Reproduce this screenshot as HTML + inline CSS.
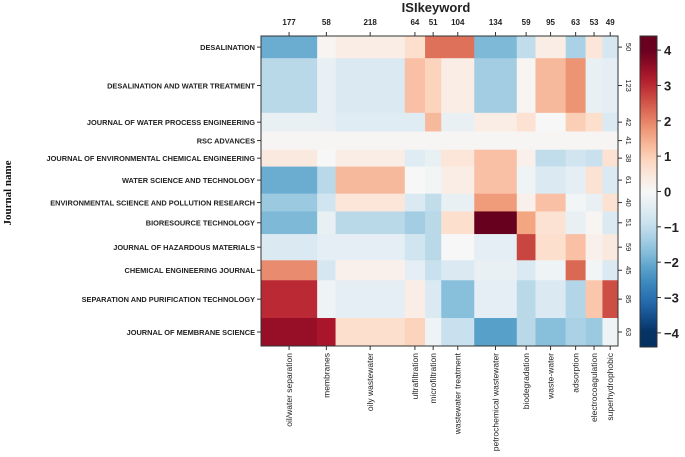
<!DOCTYPE html>
<html><head><meta charset="utf-8">
<style>
html,body{margin:0;padding:0;background:#fff;}
svg{display:block;font-family:"Liberation Sans",sans-serif;}
</style></head>
<body>
<svg id="chart" width="685" height="457" viewBox="0 0 685 457" xmlns="http://www.w3.org/2000/svg"></svg>
<script>
const keywords = ["oil/water separation","membranes","oily wastewater","ultrafiltration","microfiltration","wastewater treatment","petrochemical wastewater","biodegradation","waste-water","adsorption","electrocoagulation","superhydrophobic"];
const keywordCounts = [177,58,218,64,51,104,134,59,95,63,53,49];
const journals = ["DESALINATION","DESALINATION AND WATER TREATMENT","JOURNAL OF WATER PROCESS ENGINEERING","RSC ADVANCES","JOURNAL OF ENVIRONMENTAL CHEMICAL ENGINEERING","WATER SCIENCE AND TECHNOLOGY","ENVIRONMENTAL SCIENCE AND POLLUTION RESEARCH","BIORESOURCE TECHNOLOGY","JOURNAL OF HAZARDOUS MATERIALS","CHEMICAL ENGINEERING JOURNAL","SEPARATION AND PURIFICATION TECHNOLOGY","JOURNAL OF MEMBRANE SCIENCE"];
const journalCounts = [50,123,42,41,38,61,40,51,59,45,85,63];
const residuals = [
 [-2.0,0.1,0.3,0.7,2.2,2.2,-1.8,-1.0,0.3,-1.3,0.5,-0.7],
 [-1.1,-0.3,-0.6,1.2,0.9,0.3,-1.4,0.1,1.3,1.8,-0.3,-0.4],
 [-0.3,-0.3,-0.5,-0.5,1.3,-0.3,0.3,0.6,0.0,1.0,0.7,-0.6],
 [0.05,0.05,0.05,0.05,0.05,0.05,0.05,0.05,0.05,0.05,0.05,0.05],
 [0.4,0.0,0.3,-0.5,-0.3,0.5,1.2,0.2,-1.0,-0.8,-0.9,0.6],
 [-2.0,-1.1,1.3,0.0,-0.1,0.3,1.2,-0.2,-0.6,-0.4,0.6,-0.6],
 [-1.5,-0.8,0.5,-0.6,-1.0,-0.3,1.7,0.2,1.2,-0.1,-0.3,0.6],
 [-1.8,-0.3,-1.1,-1.4,-1.1,0.7,4.0,1.6,0.6,-0.3,0.1,-0.6],
 [-0.6,-0.4,-0.4,-0.8,-1.1,0.0,-0.4,2.7,0.7,1.2,0.2,0.4],
 [1.9,-0.7,0.2,-0.4,-0.9,-0.6,-0.3,-0.6,-0.2,2.3,-0.1,-0.6],
 [3.0,-0.2,-0.4,0.3,-0.6,-1.7,-0.4,-1.1,-0.6,-1.2,1.1,2.6],
 [3.5,3.3,0.7,0.9,-0.2,-0.9,-2.2,-1.1,-1.7,-1.3,-1.5,-0.2]
];
const colorTicks = [4,3,2,1,0,-1,-2,-3,-4];

const NS="http://www.w3.org/2000/svg";
const svg=document.getElementById('chart');
function mk(tag,attrs,parent){const e=document.createElementNS(NS,tag);for(const k in attrs)e.setAttribute(k,attrs[k]);(parent||svg).appendChild(e);return e;}
const PX0=261,PX1=618,PY0=36,PY1=346;
const totK=keywordCounts.reduce((a,b)=>a+b,0), totJ=journalCounts.reduce((a,b)=>a+b,0);
function xPos(i){let s=0;for(let k=0;k<i;k++)s+=keywordCounts[k];return PX0+(PX1-PX0)*s/totK;}
function yPos(i){let s=0;for(let k=0;k<i;k++)s+=journalCounts[k];return PY0+(PY1-PY0)*s/totJ;}
const stops=[[-4,[5,48,97]],[-3.2,[33,102,172]],[-2.4,[67,147,195]],[-1.6,[146,197,222]],[-0.8,[209,229,240]],[0,[247,247,247]],[0.8,[253,219,199]],[1.6,[244,165,130]],[2.4,[214,96,77]],[3.2,[178,24,43]],[4,[103,0,31]]];
function color(v){v=Math.max(-4,Math.min(4,v));for(let i=0;i<stops.length-1;i++){const a=stops[i],b=stops[i+1];if(v<=b[0]){const t=(v-a[0])/(b[0]-a[0]);const c=a[1].map((x,j)=>Math.round(x+(b[1][j]-x)*t));return `rgb(${c})`;}}return 'rgb(103,0,31)';}

// cells
residuals.forEach((row,r)=>row.forEach((v,c)=>{
  const e=mk('rect',{x:xPos(c),y:yPos(r),width:xPos(c+1)-xPos(c)+0.3,height:yPos(r+1)-yPos(r)+0.3,fill:color(v)});
  
  
}));
const frame=mk('rect',{x:PX0,y:PY0,width:PX1-PX0,height:PY1-PY0,fill:'none',stroke:'#333','stroke-width':1});



// x ticks and labels
keywords.forEach((k,i)=>{
  const cx=(xPos(i)+xPos(i+1))/2;
  mk('line',{x1:cx,x2:cx,y1:PY1,y2:PY1+4,stroke:'#333'});
  mk('line',{x1:cx,x2:cx,y1:PY0,y2:PY0-4,stroke:'#333'});
  const t=mk('text',{x:0,y:0,transform:`translate(${cx+3},${PY1+7}) rotate(-90)`,'text-anchor':'end','font-size':8.5,fill:'#222'});
  t.textContent=k;
  
  
  const n=mk('text',{x:cx,y:25,'text-anchor':'middle','font-size':8,'font-weight':'bold',fill:'#222'});
  n.textContent=keywordCounts[i];
  
  
});
// y ticks and labels
journals.forEach((j,i)=>{
  const cy=(yPos(i)+yPos(i+1))/2;
  mk('line',{x1:PX0,x2:PX0-4,y1:cy,y2:cy,stroke:'#333'});
  mk('line',{x1:PX1,x2:PX1+4,y1:cy,y2:cy,stroke:'#333'});
  const t=mk('text',{x:PX0-6,y:cy+2.8,'text-anchor':'end','font-size':7.4,'font-weight':'bold',fill:'#222'});
  t.textContent=j;
  
  
  const n=mk('text',{x:0,y:0,transform:`translate(${PX1+8},${cy}) rotate(90)`,'text-anchor':'middle','font-size':7.5,fill:'#222'});
  n.textContent=journalCounts[i];
  
  
});
// titles
const tt=mk('text',{x:436,y:12,'text-anchor':'middle','font-size':13,'font-weight':'bold',fill:'#222'});
tt.textContent='ISIkeyword';


const yt=mk('text',{x:0,y:0,transform:'translate(11,193) rotate(-90)','text-anchor':'middle','font-size':11,'font-weight':'bold','font-family':'"Liberation Serif",serif',fill:'#111'});
yt.textContent='Journal name';



// colorbar
const CB0=36,CB1=347,CX=640,CW=17;
const defs=mk('defs',{});
const g=mk('linearGradient',{id:'cbg',x1:0,y1:0,x2:0,y2:1},defs);
for(let i=0;i<=20;i++){const v=4.4-8.8*i/20;mk('stop',{offset:(i/20),'stop-color':color(v)},g);}
const cb=mk('rect',{x:CX,y:CB0,width:CW,height:CB1-CB0,fill:'url(#cbg)',stroke:'#333','stroke-width':1});


function cbY(v){return CB0+(4.4-v)/8.8*(CB1-CB0);}
colorTicks.forEach(v=>{
  const y=cbY(v);
  mk('line',{x1:CX+CW,x2:CX+CW+4,y1:y,y2:y,stroke:'#333'});
  const t=mk('text',{x:CX+CW+7,y:y+5,'font-size':13,'font-weight':'bold',fill:'#222'});
  t.textContent=v<0?'\u2212'+(-v):String(v);
  
  
});
</script>
</body></html>
